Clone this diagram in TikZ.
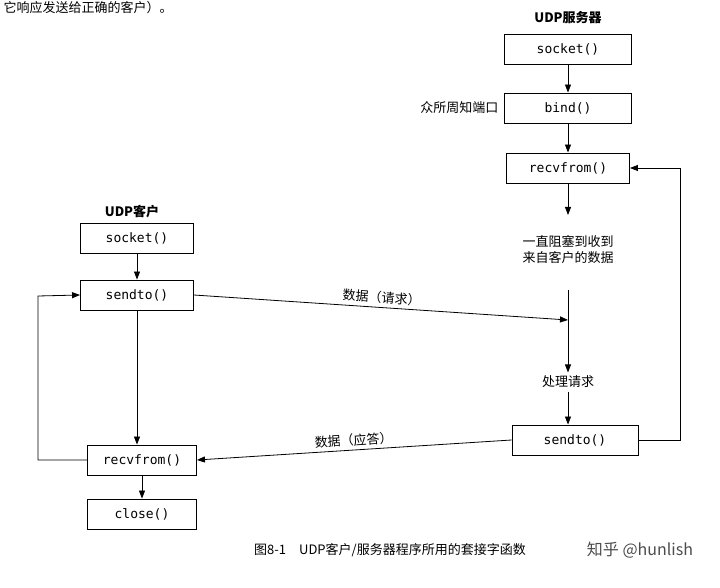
\documentclass[tikz,border=0pt]{standalone}
\usepackage{fontspec}
\setmainfont{Noto Sans CJK SC}
\newfontfamily\cjk{Noto Sans CJK SC}
\setmonofont{DejaVu Sans Mono}
\usetikzlibrary{arrows.meta}
\begin{document}
\begin{tikzpicture}[x=1pt,y=-1pt,
  fn/.style={draw,line width=0.9pt,fill=white,font=\ttfamily\fontsize{13}{15}\selectfont,minimum height=30pt,inner sep=0pt},
  lbl/.style={font=\cjk\fontsize{13}{16}\selectfont,align=center},
  arr/.style={-{Triangle[length=8pt,width=6pt]},line width=0.8pt}]
\useasboundingbox (0,0) rectangle (720,588);
\node[lbl,anchor=west] (top) at (0,8) {它响应发送给正确的客户）。};
% server
\node[lbl,font=\cjk\bfseries\fontsize{13}{16}\selectfont] (udps) at (568,18) {UDP服务器};
\node[fn,minimum width=127pt] (ssock) at (568,49) {socket()};
\node[fn,minimum width=127pt] (sbind) at (568,108) {bind()};
\node[lbl,anchor=east] (wk) at (502,108) {众所周知端口};
\node[fn,minimum width=123pt] (srecv) at (568,168) {recvfrom()};
\coordinate (b1) at (568,215);
\node[lbl] (block) at (568,250) {一直阻塞到收到\\来自客户的数据};
\coordinate (b2) at (568,290);
\coordinate (req) at (568,320);
\node[lbl] (proc) at (568,382) {处理请求};
\node[fn,minimum width=126pt] (ssend) at (575,440) {sendto()};
\coordinate (r1) at (680,440);
\coordinate (r2) at (680,168);
% client
\node[lbl,font=\cjk\bfseries\fontsize{13}{16}\selectfont] (udpc) at (132,212) {UDP客户};
\node[fn,minimum width=113pt] (csock) at (137,238) {socket()};
\node[fn,minimum width=113pt] (csend) at (137,295) {sendto()};
\node[fn,minimum width=109pt] (crecv) at (142,460) {recvfrom()};
\node[fn,minimum width=109pt] (cclose) at (142,514) {close()};
\coordinate (l1) at (38,460);
\coordinate (l2) at (38,296);
% arrows
\draw[arr] (ssock) -- (sbind);
\draw[arr] (sbind) -- (srecv);
\draw[arr] (srecv) -- (b1);
\draw[arr] (b2) -- (proc.north);
\draw[arr] (proc) -- (ssend.north -| proc);
\draw[arr] (ssend.east) -- (r1) -- (r2) -- (srecv.east);
\draw[arr] (csend.east) -- node[lbl,above,sloped] {数据（请求）} (req);
\draw[arr] (ssend.west) -- node[lbl,above,sloped] {数据（应答）} (crecv.east);
\draw[arr] (csock) -- (csend);
\draw[arr] (csend) -- (crecv.north -| csend);
\draw[arr] (crecv) -- (cclose);
\draw[arr] (crecv.west) -- (l1) -- (l2) -- (csend.west);
% caption
\node[lbl,font=\cjk\fontsize{13}{16}\selectfont] (cap) at (390,550) {图8-1\quad UDP客户/服务器程序所用的套接字函数};
\node[lbl,font=\cjk\fontsize{16}{18}\selectfont,text=black!70] (wm) at (640,550) {知乎 @hunlish};
\end{tikzpicture}
\end{document}
